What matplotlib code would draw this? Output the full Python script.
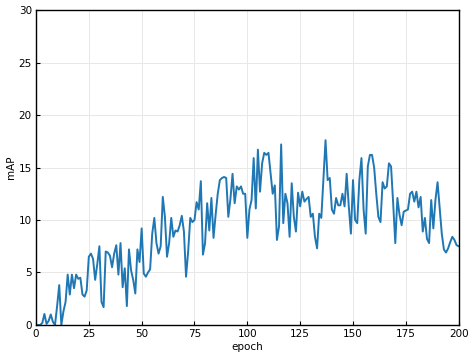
import matplotlib
matplotlib.use("Agg")
import matplotlib.pyplot as plt
import numpy as np

epochs = list(range(0, 201))
map_values = [
    0.0, 0.0, 0.0, 0.2, 1.05, 0.1, 0.4, 1.0, 0.3, 0.0,
    1.8, 3.8, 0.0, 1.3, 2.2, 4.8, 2.9, 4.8, 3.5, 4.8,
    4.4, 4.5, 2.9, 2.7, 3.3, 6.5, 6.8, 6.3, 4.3, 5.8,
    7.5, 2.2, 1.7, 7.0, 6.9, 6.6, 5.5, 6.8, 7.6, 4.8,
    7.8, 3.6, 5.4, 1.8, 7.2, 5.2, 4.3, 3.0, 7.2, 6.0,
    9.2, 4.9, 4.6, 5.0, 5.3, 8.7, 10.2, 7.8, 6.8, 7.5,
    12.2, 10.3, 6.5, 7.8, 10.2, 8.4, 9.0, 8.9, 9.5, 10.4,
    8.9, 4.6, 7.0, 10.2, 9.8, 10.0, 11.7, 11.0, 13.7, 6.7,
    7.8, 11.6, 9.0, 12.1, 8.3, 10.5, 12.5, 13.8, 14.0, 14.1,
    14.0, 10.3, 12.0, 14.4, 11.6, 13.2, 12.9, 13.2, 12.5, 12.5,
    8.3, 11.0, 11.9, 15.9, 11.1, 16.7, 12.7, 15.4, 16.4, 16.2,
    16.4, 14.4, 12.5, 13.3, 8.1, 9.4, 17.2, 9.7, 12.5, 11.6,
    8.4, 13.5, 10.3, 8.9, 12.6, 11.3, 12.7, 11.75, 12.0, 12.2,
    10.3, 10.6, 8.4, 7.3, 10.6, 10.2, 14.0, 17.6, 13.8, 14.0,
    11.0, 10.6, 12.1, 11.4, 11.4, 12.5, 11.3, 14.4, 11.3, 8.7,
    13.8, 10.0, 9.7, 13.8, 15.9, 11.0, 8.7, 15.1, 16.2, 16.2,
    15.0, 12.5, 10.3, 9.8, 13.6, 13.0, 13.2, 15.4, 15.1, 11.6,
    7.8, 12.1, 10.5, 9.5, 10.8, 10.9, 11.0, 12.5, 12.7, 11.75,
    12.7, 11.2, 12.2, 8.9, 10.2, 8.2, 7.8, 11.9, 9.2, 11.9,
    13.6, 11.1, 8.7, 7.2, 6.9, 7.3, 7.9, 8.4, 8.1, 7.6,
    7.5,
]
x_ticks = [0, 25, 50, 75, 100, 125, 150, 175, 200]
y_ticks = [0, 5, 10, 15, 20, 25, 30]

fig = plt.figure(figsize=(4.74, 3.58), dpi=100)
ax = fig.add_axes([0.0759, 0.0922, 0.8918, 0.8798])
ax.plot(epochs, map_values, color="#1f77b4", linewidth=1.4)
ax.set_xlim(0, 200)
ax.set_ylim(0, 30)
ax.set_xticks(x_ticks)
ax.set_yticks(y_ticks)
ax.grid(True, color="#e8e8e8", linewidth=0.7)
ax.set_axisbelow(True)
ax.tick_params(direction="in", labelsize=7.5, length=3, width=0.8, pad=3)
for s in ax.spines.values():
    s.set_linewidth(1.0)
ax.set_xlabel("epoch", fontsize=7.5, labelpad=2)
ax.set_ylabel("mAP", fontsize=7.5, labelpad=2)
fig.savefig("out.png", dpi=100)
